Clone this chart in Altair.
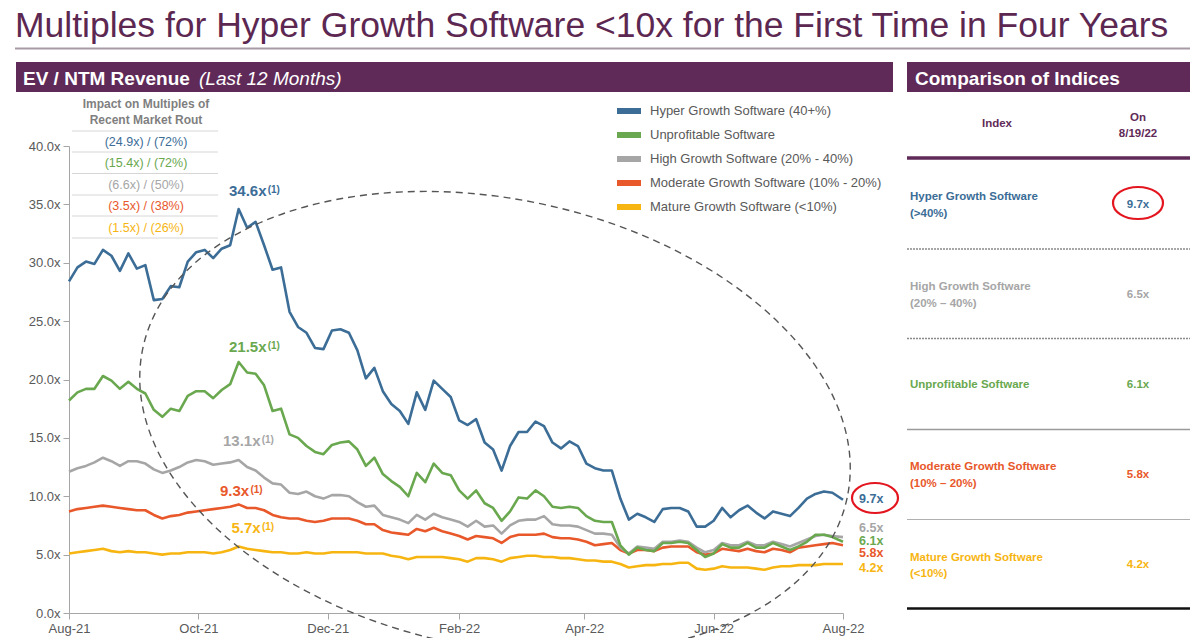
import altair as alt
import pandas as pd

FONT = "Liberation Sans"
X0, Y0 = 69, 146          # page position of the plot origin
PURPLE = "#5f2a58"

# ---------------- data ----------------
dates = pd.date_range("2021-08-19", "2022-08-19", periods=92).normalize()

series_names = [
    "Hyper Growth Software (40+%)",
    "Unprofitable Software",
    "High Growth Software (20% - 40%)",
    "Moderate Growth Software (10% - 20%)",
    "Mature Growth Software (<10%)",
]
series_colors = ["#3b6d97", "#6aa84f", "#a6a6a6", "#e8582b", "#f7b512"]

hyper = [28.4, 29.6, 30.1, 29.9, 31.1, 30.6, 29.3, 30.8, 29.5, 29.8,
         26.8, 26.9, 28.0, 27.9, 30.1, 30.9, 31.1, 30.4, 31.2, 31.5,
         34.6, 33.0, 33.5, 31.5, 29.4, 29.6, 25.8, 24.5, 24.0, 22.7,
         22.6, 24.2, 24.3, 24.0, 22.5, 20.1, 21.0, 19.0, 17.9, 17.3,
         16.2, 18.9, 17.4, 19.9, 19.2, 18.5, 16.5, 16.1, 16.6, 14.6,
         14.0, 12.2, 14.3, 15.5, 15.5, 16.4, 16.0, 14.6, 14.1, 14.7,
         14.3, 12.8, 12.4, 12.2, 12.2, 9.8, 8.0, 8.5, 8.2, 7.8,
         8.9, 9.0, 9.0, 8.7, 7.4, 7.4, 7.9, 9.0, 8.2, 8.8,
         9.2, 8.6, 8.1, 8.7, 8.5, 8.3, 9.0, 9.8, 10.2, 10.4,
         10.3, 9.7]
unprofitable = [18.2, 18.9, 19.2, 19.2, 20.3, 19.9, 19.2, 19.8, 19.2, 18.8,
                17.4, 16.8, 17.5, 17.3, 18.6, 19.0, 19.0, 18.4, 19.1, 19.6,
                21.5, 20.6, 20.5, 19.5, 17.3, 17.5, 15.3, 15.0, 14.3, 13.8,
                13.6, 14.4, 14.6, 14.7, 14.0, 12.6, 13.3, 11.9, 11.3, 10.8,
                10.0, 12.0, 11.2, 12.8, 12.0, 11.8, 10.5, 9.8, 10.5, 9.4,
                9.0, 7.9, 8.7, 9.9, 9.8, 10.5, 10.0, 9.1, 9.0, 9.1,
                9.0, 8.3, 7.9, 7.8, 7.8, 5.8, 5.0, 5.6, 5.4, 5.3,
                6.0, 6.0, 6.1, 6.0, 5.4, 4.8, 5.1, 5.9, 5.6, 5.6,
                6.0, 5.6, 5.6, 6.0, 5.7, 5.4, 5.7, 6.1, 6.7, 6.7,
                6.5, 6.1]
high = [12.1, 12.4, 12.6, 12.9, 13.3, 13.0, 12.6, 13.0, 13.0, 12.8,
        12.3, 12.0, 12.2, 12.5, 12.9, 13.1, 13.0, 12.7, 12.8, 12.9,
        13.1, 12.5, 12.2, 11.6, 11.1, 11.0, 10.3, 10.2, 10.4, 10.0,
        9.8, 10.1, 10.1, 10.0, 9.5, 9.1, 9.2, 8.4, 8.2, 8.0,
        7.7, 8.4, 8.0, 8.5, 8.2, 8.0, 7.8, 7.4, 7.9, 7.4,
        7.5, 6.8, 7.5, 7.9, 8.0, 8.0, 8.3, 7.6, 7.5, 7.5,
        7.4, 7.1, 6.8, 6.8, 6.7, 5.6, 5.1, 5.7, 5.6, 5.5,
        6.1, 6.1, 6.2, 6.1, 5.6, 5.2, 5.4, 6.0, 5.8, 5.8,
        6.1, 5.8, 5.8, 6.1, 5.9, 5.7, 6.0, 6.3, 6.6, 6.7,
        6.6, 6.5]
moderate = [8.7, 8.9, 9.0, 9.1, 9.2, 9.1, 9.0, 8.9, 8.8, 8.8,
            8.4, 8.1, 8.3, 8.4, 8.6, 8.7, 8.8, 8.9, 9.0, 9.1,
            9.3, 9.0, 9.0, 8.8, 8.4, 8.2, 8.1, 8.1, 7.9, 7.8,
            7.9, 8.1, 8.1, 8.1, 7.9, 7.6, 7.6, 7.1, 6.9, 6.8,
            6.7, 7.2, 7.0, 7.3, 7.0, 6.8, 6.6, 6.3, 6.6, 6.5,
            6.4, 6.0, 6.5, 6.7, 6.7, 6.7, 6.8, 6.5, 6.4, 6.4,
            6.3, 6.1, 5.8, 5.9, 6.0, 5.4, 5.1, 5.4, 5.4, 5.3,
            5.6, 5.7, 5.7, 5.7, 5.2, 5.0, 5.1, 5.5, 5.4, 5.3,
            5.5, 5.3, 5.2, 5.5, 5.4, 5.2, 5.6, 5.7, 5.8, 5.9,
            6.0, 5.8]
mature = [5.1, 5.2, 5.3, 5.4, 5.5, 5.3, 5.2, 5.3, 5.2, 5.2,
          5.1, 5.0, 5.1, 5.1, 5.2, 5.2, 5.2, 5.1, 5.2, 5.4,
          5.7, 5.5, 5.4, 5.3, 5.2, 5.2, 5.1, 5.1, 5.2, 5.1,
          5.1, 5.2, 5.2, 5.2, 5.2, 5.1, 5.1, 5.1, 4.9, 4.8,
          4.6, 4.8, 4.8, 4.8, 4.8, 4.7, 4.6, 4.4, 4.7, 4.7,
          4.6, 4.4, 4.7, 4.8, 4.9, 4.9, 4.8, 4.8, 4.7, 4.7,
          4.6, 4.5, 4.5, 4.4, 4.4, 4.2, 3.9, 4.0, 4.1, 4.1,
          4.2, 4.2, 4.3, 4.3, 3.8, 3.7, 3.8, 4.0, 3.9, 3.9,
          3.9, 3.8, 3.7, 3.9, 4.0, 4.0, 4.1, 4.1, 4.1, 4.2,
          4.2, 4.2]

impact_rows = ["(24.9x) / (72%)", "(15.4x) / (72%)", "(6.6x) / (50%)",
               "(3.5x) / (38%)", "(1.5x) / (26%)"]
peak_labels = ["34.6x", "21.5x", "13.1x", "9.3x", "5.7x"]
end_labels = ["9.7x", "6.1x", "6.5x", "5.8x", "4.2x"]

all_series = [hyper, unprofitable, high, moderate, mature]
rows = []
for i in [4, 3, 2, 1, 0]:          # draw mature first, hyper on top
    for d, v in zip(dates, all_series[i]):
        rows.append({"date": d, "series": series_names[i], "value": v})
df = pd.DataFrame(rows)

ONE = pd.DataFrame({"k": [0]})

# ---------------- helpers for annotations ----------------
def txt(px, py, s, size, color, weight="normal", align="left", style="normal"):
    return alt.Chart(ONE).mark_text(
        text=s, fontSize=size, color=color, fontWeight=weight, align=align,
        fontStyle=style, font=FONT, baseline="alphabetic"
    ).encode(x=alt.value(px - X0), y=alt.value(py - Y0))


def rect(x1, y1, x2, y2, color):
    return alt.Chart(ONE).mark_rect(color=color).encode(
        x=alt.value(x1 - X0), x2=alt.value(x2 - X0),
        y=alt.value(y1 - Y0), y2=alt.value(y2 - Y0))


def hline(x1, x2, y, color, width=1.0, dash=None):
    kw = dict(color=color, strokeWidth=width)
    if dash:
        kw["strokeDash"] = dash
    return alt.Chart(ONE).mark_rule(**kw).encode(
        x=alt.value(x1 - X0), x2=alt.value(x2 - X0), y=alt.value(y - Y0))


def ellipse_path(r):
    k = 0.5523
    return (f"M 1 0 C 1 {k*r:.4f} {k:.4f} {r:.4f} 0 {r:.4f} "
            f"C {-k:.4f} {r:.4f} -1 {k*r:.4f} -1 0 "
            f"C -1 {-k*r:.4f} {-k:.4f} {-r:.4f} 0 {-r:.4f} "
            f"C {k:.4f} {-r:.4f} 1 {-k*r:.4f} 1 0 Z")


def ellipse(cx, cy, a, b, color, width, angle=0, dash=None):
    kw = dict(shape=ellipse_path(b / a), size=(2 * a) ** 2, filled=False,
              stroke=color, strokeWidth=width, opacity=1)
    if angle:
        kw["angle"] = angle
    if dash:
        kw["strokeDash"] = dash
    return alt.Chart(ONE).mark_point(**kw).encode(
        x=alt.value(cx - X0), y=alt.value(cy - Y0))


# ---------------- main line chart ----------------
tick_dates = [alt.DateTime(year=y, month=m, date=19) for (y, m) in
              [(2021, 8), (2021, 10), (2021, 12), (2022, 2), (2022, 4), (2022, 6), (2022, 8)]]

lines = alt.Chart(df).mark_line(strokeWidth=2.6, strokeJoin="round").encode(
    x=alt.X("date:T",
            scale=alt.Scale(domain=[tick_dates[0], tick_dates[-1]]),
            axis=alt.Axis(values=tick_dates, labelExpr="timeFormat(datum.value, '%b-%y')",
                          title=None, grid=False, domainColor="#a6a6a6", tickColor="#a6a6a6",
                          tickSize=6, labelFontSize=13, labelColor="#595959", labelFont=FONT,
                          labelFlush=False, labelOverlap=False, labelPadding=3)),
    y=alt.Y("value:Q",
            scale=alt.Scale(domain=[0, 40], nice=False),
            axis=alt.Axis(values=list(range(0, 41, 5)),
                          labelExpr="format(datum.value, '.1f') + 'x'",
                          title=None, grid=False, domainColor="#a6a6a6", tickColor="#a6a6a6",
                          tickSize=6, labelFontSize=13, labelColor="#595959", labelFont=FONT,
                          labelPadding=3)),
    color=alt.Color("series:N",
                    scale=alt.Scale(domain=series_names, range=series_colors),
                    legend=alt.Legend(title=None, orient="none", legendX=551, legendY=-44,
                                      symbolType="M -2 0 L 2 0", symbolSize=144,
                                      symbolStrokeWidth=6,
                                      labelFontSize=13, labelColor="#595959", labelFont=FONT,
                                      labelOffset=12, rowPadding=0, padding=0, labelLimit=400)),
)

layers = [lines]

# title & header bars
layers += [
    txt(15, 37, "Multiples for Hyper Growth Software <10x for the First Time in Four Years",
        35.5, "#5c2751"),
    hline(15, 1190, 48.5, "#a89aa5", 2),
    rect(16, 62, 893, 92, PURPLE),
    rect(907, 62, 1190, 92, PURPLE),
    txt(23, 85, "EV / NTM Revenue", 19, "white", weight="bold"),
    txt(199, 85, "(Last 12 Months)", 19, "white", style="italic"),
    txt(915, 85, "Comparison of Indices", 19, "white", weight="bold"),
]

# impact table
layers += [
    txt(146, 108, "Impact on Multiples of", 12, "#7f7f7f", weight="bold", align="center"),
    txt(146, 124, "Recent Market Rout", 12, "#7f7f7f", weight="bold", align="center"),
]
for y in [131, 152, 173.5, 195, 216, 238]:
    layers.append(hline(72, 218, y, "#d6d6d6", 1))
for s, c, y in zip(impact_rows, series_colors, [146, 167, 188.5, 210, 231.5]):
    layers.append(txt(146, y, s, 12.5, c, align="center"))

# peak labels with superscript
peak_pos = [(229, 196), (229, 352), (223, 446), (220, 496), (231.5, 533.3)]
for s, c, (px, py) in zip(peak_labels, series_colors, peak_pos):
    w = 0.015 * (2502 if len(s) == 5 else 1946)
    layers.append(txt(px, py, s, 15, c, weight="bold"))
    layers.append(txt(px + w + 1.2, py - 3.5, "(1)", 10, c, weight="bold"))

# end labels
end_pos = [503, 545, 532, 557, 572]
for s, c, y in zip(end_labels, series_colors, end_pos):
    layers.append(txt(859, y, s, 12.5, c, weight="bold"))

# ellipses
layers += [
    ellipse(495, 423, 360, 224, "#555555", 1.4, angle=12, dash=[7, 5]),
    ellipse(875, 498, 23, 15, "#e3161f", 2.2),
    ellipse(1138, 203, 25, 16, "#e3161f", 2.2),
]

# comparison panel
layers += [
    txt(997, 127, "Index", 11.5, PURPLE, weight="bold", align="center"),
    txt(1138, 121, "On", 11.5, PURPLE, weight="bold", align="center"),
    txt(1138, 137, "8/19/22", 11.5, PURPLE, weight="bold", align="center"),
    hline(907, 1190, 158, PURPLE, 3.5),
    hline(907, 1190, 249, "#8a8a8a", 1.5, dash=[2, 1]),
    hline(907, 1190, 338.5, "#8a8a8a", 1.5, dash=[2, 1]),
    hline(907, 1190, 429.5, "#9a9a9a", 1.5),
    hline(907, 1190, 519.5, "#b0b0b0", 1),
    hline(907, 1190, 608.5, "#111111", 2.5),
]
panel = [
    (["Hyper Growth Software", "(>40%)"], 200, "9.7x", 208, series_colors[0]),
    (["High Growth Software", "(20% – 40%)"], 290, "6.5x", 298, series_colors[2]),
    (["Unprofitable Software"], 388.3, "6.1x", 388.3, series_colors[1]),
    (["Moderate Growth Software", "(10% – 20%)"], 470, "5.8x", 478, series_colors[3]),
    (["Mature Growth Software", "(<10%)"], 560.7, "4.2x", 568, series_colors[4]),
]
for lines_txt, y, val, vy, c in panel:
    for j, s in enumerate(lines_txt):
        layers.append(txt(910, y + 16.5 * j, s, 11.5, c, weight="bold"))
    layers.append(txt(1138, vy, val, 11.5, c, weight="bold", align="center"))

chart = alt.layer(*layers).properties(
    width=774, height=467,
    autosize=alt.AutoSizeParams(type="none"),
    padding={"left": 61, "top": 138, "right": 349, "bottom": 25},
    background="white",
).configure_view(stroke="transparent")

chart.save("out.html", embed_options={"renderer": "svg", "actions": False})
